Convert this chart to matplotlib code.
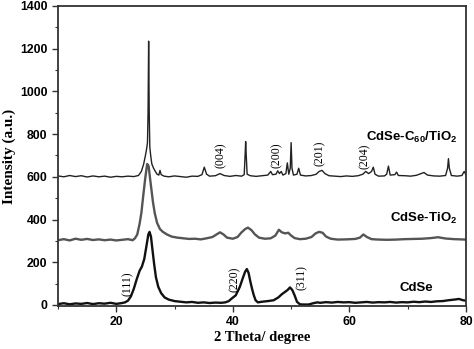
import matplotlib
matplotlib.use("Agg")
import matplotlib.pyplot as plt
from matplotlib.ticker import MultipleLocator

# XRD patterns (2 theta in degrees, intensity in a.u.)
two_theta_c60 = [10, 11, 12, 13, 14, 15, 16, 17, 18, 19, 20, 21, 22, 23, 23.8, 24.3, 24.7,
                 25.0, 25.2, 25.35, 25.45, 25.55, 25.65, 25.75, 25.9, 26.1, 26.4, 26.7, 27.0,
                 27.3, 27.5, 27.7, 28.2, 29, 30, 31, 32, 33, 34, 34.7, 35.1, 35.5, 36, 37,
                 37.8, 38.5, 39.5, 40.5, 41.5, 41.95, 42.1, 42.2, 42.3, 42.45, 43, 44, 45,
                 46, 46.5, 46.8, 47.4, 47.7, 48.0, 48.3, 48.6, 49.1, 49.35, 49.6, 49.85,
                 50.0, 50.15, 50.4, 51.0, 51.3, 51.6, 52.5, 53.5, 54.3, 54.8, 55.3, 55.8,
                 56.5, 57.5, 58.5, 59.5, 60.5, 61.5, 62.3, 62.8, 63.3, 63.8, 64.1, 64.4, 65,
                 66.0, 66.4, 66.7, 67.0, 67.8, 68.1, 68.4, 69.5, 70.5, 71.5, 72.3, 72.8,
                 73.4, 74.5, 75.5, 76.5, 76.85, 77.0, 77.15, 77.5, 78.5, 79.3, 79.7, 80]
intensity_c60 = [604, 600, 606, 601, 605, 599, 604, 600, 603, 598, 602, 600, 603, 601, 606,
                 625, 660, 700, 730, 760, 900, 1235, 900, 740, 700, 660, 640, 625, 612, 608,
                 630, 610, 603, 600, 604, 601, 598, 603, 602, 610, 645, 612, 603, 605, 615,
                 606, 602, 606, 603, 610, 700, 765, 700, 612, 605, 602, 605, 608, 625, 610,
                 612, 628, 615, 625, 608, 615, 665, 612, 640, 760, 640, 608, 612, 640, 608,
                 604, 606, 612, 625, 630, 615, 605, 603, 601, 604, 602, 605, 612, 625, 615,
                 625, 645, 612, 603, 604, 612, 650, 608, 610, 622, 606, 605, 603, 607, 615,
                 620, 608, 604, 603, 606, 640, 685, 640, 606, 603, 606, 625, 610]

two_theta_tio2 = [10, 11, 12, 13, 14, 15, 16, 17, 18, 19, 20, 21, 22, 22.8, 23.2, 23.6, 24.0,
                  24.3, 24.7, 25.0, 25.3, 25.55, 25.85, 26.3, 26.6, 27.0, 27.5, 28.0, 28.7,
                  29.5, 30.5, 31.5, 32.5, 33.5, 34.5, 35.5, 36.5, 37.2, 37.8, 38.4, 39.0,
                  40.0, 40.8, 41.5, 42.1, 42.6, 43.2, 43.8, 44.5, 45.5, 46.5, 47.3, 47.9,
                  48.4, 49.0, 49.5, 50.0, 50.6, 51.5, 52.5, 53.5, 54.2, 54.8, 55.4, 56.0,
                  56.8, 58, 59.5, 61, 61.8, 62.4, 63.0, 63.8, 65, 66.5, 68, 69.5, 71, 72.5,
                  74, 75.2, 76.5, 78, 79, 80]
intensity_tio2 = [303, 308, 302, 310, 305, 309, 304, 307, 303, 306, 302, 305, 308, 303, 312,
                  330, 380, 430, 530, 600, 660, 650, 580, 480, 430, 384, 355, 342, 330, 320,
                  315, 312, 309, 310, 307, 312, 318, 330, 340, 330, 315, 310, 318, 340, 355,
                  362, 350, 330, 315, 310, 312, 325, 352, 340, 335, 338, 325, 313, 308, 310,
                  318, 335, 342, 338, 320, 310, 306, 307, 309, 315, 330, 318, 308, 306, 305,
                  306, 308, 309, 310, 313, 317, 311, 308, 307, 306]

two_theta_cdse = [10, 11, 12, 13, 14, 15, 16, 17, 18, 19, 20, 20.8, 21.5, 22.0, 22.5, 23.0,
                  23.5, 24.0, 24.4, 24.8, 25.2, 25.5, 25.7, 25.95, 26.2, 26.5, 26.8, 27.2,
                  27.7, 28.3, 29, 30, 31, 32, 33, 34, 35, 36, 37, 38, 38.7, 39.3, 39.8, 40.5,
                  41.2, 41.7, 42.1, 42.4, 42.7, 43.0, 43.3, 43.6, 43.9, 44.3, 45, 46, 47, 47.8,
                  48.4, 48.9, 49.4, 49.8, 50.2, 50.6, 51.0, 51.5, 52, 53, 53.8, 54.5, 55, 56,
                  57, 58, 59, 60, 61, 62, 63, 64, 65, 66, 67, 68, 69, 70, 71, 72, 73, 74, 75,
                  76, 77, 78, 78.8, 79.5, 80]
intensity_cdse = [4, 8, 3, 7, 5, 9, 4, 8, 6, 10, 5, 8, 12, 20, 40, 75, 120, 160, 180, 215,
                  280, 330, 342, 320, 260, 190, 130, 85, 55, 35, 25, 18, 15, 12, 14, 10, 12,
                  9, 11, 10, 12, 18, 30, 45, 85, 125, 155, 168, 150, 110, 75, 45, 22, 12, 15,
                  18, 22, 35, 50, 60, 70, 82, 70, 45, 15, 3, 2, 2, 8, 12, 10, 13, 11, 14, 12,
                  13, 10, 12, 14, 11, 13, 12, 14, 11, 13, 12, 15, 13, 16, 14, 17, 18, 22, 25,
                  28, 22, 20]

# peak indices: (label, 2 theta, height of label centre)
peak_labels = ["(111)", "(220)", "(311)", "(004)", "(200)", "(201)", "(204)"]
peak_x = [22.0, 40.4, 51.9, 38.0, 47.6, 55.0, 62.7]
peak_y = [100, 118, 130, 700, 700, 710, 695]

plt.rcParams['mathtext.fontset'] = 'custom'
plt.rcParams['mathtext.rm'] = 'Liberation Sans:bold'
plt.rcParams['mathtext.default'] = 'rm'

fig = plt.figure(figsize=(4.74, 3.49), dpi=100)
ax = fig.add_axes([0.1224, 0.1232, 0.8606, 0.8598])

ax.plot(two_theta_cdse, intensity_cdse, color='#111111', lw=1.7)
ax.plot(two_theta_tio2, intensity_tio2, color='#555555', lw=1.7)
ax.plot(two_theta_c60, intensity_c60, color='#222222', lw=1.0)

for lab, px, py in zip(peak_labels, peak_x, peak_y):
    ax.text(px, py, lab, rotation=90, ha='center', va='center',
            family='Liberation Serif', fontsize=8.5)

ax.text(78.6, 786, "CdSe-C$_{60}$/TiO$_2$", ha='right', va='center',
        family='Liberation Sans', fontweight='bold', fontsize=9.5)
ax.text(78.6, 407, "CdSe-TiO$_2$", ha='right', va='center',
        family='Liberation Sans', fontweight='bold', fontsize=9.5)
ax.text(74.3, 80, "CdSe", ha='right', va='center',
        family='Liberation Sans', fontweight='bold', fontsize=9.5)

ax.set_xlim(10, 80)
ax.set_ylim(-5, 1400)
ax.xaxis.set_major_locator(MultipleLocator(20))
ax.xaxis.set_minor_locator(MultipleLocator(10))
ax.yaxis.set_major_locator(MultipleLocator(200))
ax.yaxis.set_minor_locator(MultipleLocator(100))
ax.tick_params(which='major', direction='out', length=4, width=1, colors='#333333')
ax.tick_params(which='minor', direction='out', length=2.5, width=0.8, colors='#333333')
for lab in ax.get_xticklabels() + ax.get_yticklabels():
    lab.set_family('Liberation Sans')
    lab.set_fontweight('bold')
    lab.set_fontsize(8.8)
    lab.set_color('black')
for sp in ax.spines.values():
    sp.set_color('#333333')
    sp.set_linewidth(1.3)

ax.set_xlabel("2 Theta/ degree", family='Liberation Serif', fontweight='bold',
              fontsize=10.5, labelpad=2)
ax.set_ylabel("Intensity (a.u.)", family='Liberation Serif', fontweight='bold',
              fontsize=11, labelpad=3)

fig.savefig("out.png", dpi=100)
